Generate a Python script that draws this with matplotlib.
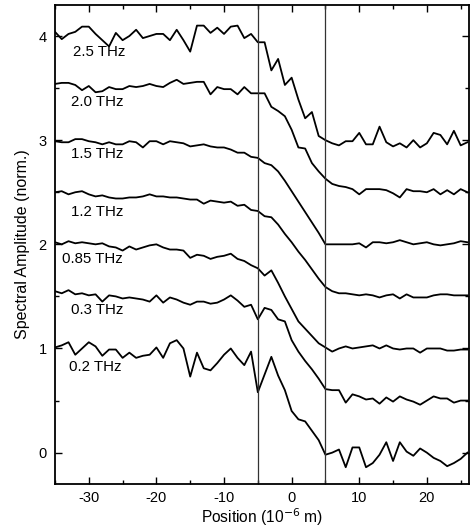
import matplotlib
matplotlib.use('Agg')
import matplotlib.pyplot as plt
from matplotlib.ticker import MultipleLocator

plt.rcParams['font.family'] = ['Liberation Sans', 'DejaVu Sans']
plt.rcParams['axes.unicode_minus'] = False

# positions in 1e-6 m
position = list(range(-35, 27))

amp_25 = [4.04, 3.97, 4.02, 4.04, 4.09, 4.09, 4.02, 3.96, 3.90, 4.03,
          3.96, 4.00, 4.06, 3.98, 4.00, 4.02, 4.02, 3.96, 4.06, 3.96,
          3.85, 4.10, 4.10, 4.03, 4.08, 4.02, 4.09, 4.10, 3.98, 4.02,
          3.94, 3.94, 3.67, 3.78, 3.53, 3.60, 3.39, 3.21, 3.27, 3.04,
          3.00, 2.97, 2.95, 2.99, 2.99, 3.07, 2.96, 2.96, 3.13, 2.98,
          2.94, 2.97, 2.93, 3.00, 2.93, 2.97, 3.07, 3.05, 2.96, 3.09,
          2.95, 2.98]
amp_20 = [3.54, 3.55, 3.55, 3.53, 3.48, 3.52, 3.46, 3.47, 3.51, 3.49,
          3.49, 3.52, 3.51, 3.52, 3.54, 3.52, 3.51, 3.55, 3.58, 3.54,
          3.55, 3.56, 3.56, 3.44, 3.51, 3.49, 3.49, 3.44, 3.51, 3.45,
          3.45, 3.45, 3.32, 3.28, 3.23, 3.10, 2.93, 2.92, 2.78, 2.70,
          2.63, 2.58, 2.56, 2.55, 2.53, 2.48, 2.53, 2.53, 2.53, 2.52,
          2.49, 2.45, 2.53, 2.51, 2.51, 2.50, 2.53, 2.48, 2.52, 2.48,
          2.53, 2.50]
amp_15 = [2.99, 2.98, 2.98, 3.01, 3.01, 2.99, 2.98, 2.96, 2.98, 2.96,
          2.96, 2.99, 2.98, 2.93, 2.99, 2.99, 2.96, 2.99, 2.98, 2.97,
          2.94, 2.95, 2.96, 2.94, 2.93, 2.93, 2.91, 2.88, 2.88, 2.84,
          2.83, 2.78, 2.76, 2.70, 2.61, 2.51, 2.41, 2.31, 2.21, 2.11,
          2.00, 2.00, 2.00, 2.00, 2.00, 2.01, 1.97, 2.02, 2.02, 2.01,
          2.02, 2.04, 2.02, 2.00, 2.01, 2.02, 2.00, 1.99, 2.00, 2.01,
          2.03, 2.02]
amp_12 = [2.50, 2.51, 2.48, 2.50, 2.51, 2.48, 2.46, 2.47, 2.45, 2.44,
          2.44, 2.45, 2.45, 2.46, 2.48, 2.46, 2.46, 2.45, 2.45, 2.44,
          2.43, 2.43, 2.39, 2.42, 2.41, 2.40, 2.41, 2.37, 2.38, 2.33,
          2.32, 2.27, 2.26, 2.19, 2.10, 2.02, 1.93, 1.85, 1.76, 1.67,
          1.59, 1.55, 1.53, 1.53, 1.52, 1.51, 1.52, 1.51, 1.49, 1.51,
          1.52, 1.48, 1.52, 1.49, 1.49, 1.49, 1.51, 1.52, 1.52, 1.51,
          1.51, 1.51]
amp_085 = [2.02, 2.00, 2.03, 2.01, 2.02, 2.01, 2.00, 2.01, 1.98, 1.97,
           1.94, 1.98, 1.95, 1.97, 1.99, 2.00, 1.97, 1.95, 1.95, 1.94,
           1.87, 1.90, 1.89, 1.86, 1.88, 1.89, 1.91, 1.86, 1.84, 1.80,
           1.77, 1.70, 1.75, 1.63, 1.50, 1.38, 1.26, 1.19, 1.12, 1.05,
           1.01, 0.97, 1.00, 1.02, 1.00, 1.01, 1.02, 1.03, 1.00, 1.03,
           1.00, 0.99, 1.00, 1.00, 0.96, 1.00, 1.00, 1.00, 0.98, 0.98,
           0.99, 0.99]
amp_03 = [1.55, 1.53, 1.56, 1.52, 1.53, 1.51, 1.52, 1.45, 1.51, 1.50,
          1.48, 1.49, 1.48, 1.47, 1.45, 1.51, 1.44, 1.49, 1.47, 1.44,
          1.42, 1.45, 1.45, 1.43, 1.44, 1.47, 1.51, 1.46, 1.40, 1.42,
          1.28, 1.39, 1.37, 1.28, 1.26, 1.08, 0.97, 0.88, 0.80, 0.71,
          0.61, 0.60, 0.60, 0.48, 0.56, 0.54, 0.51, 0.52, 0.47, 0.53,
          0.49, 0.54, 0.51, 0.49, 0.46, 0.50, 0.54, 0.52, 0.52, 0.48,
          0.50, 0.50]
amp_02 = [1.01, 1.03, 1.06, 0.94, 1.00, 1.06, 1.02, 0.93, 0.99, 0.99,
          0.91, 0.96, 0.91, 0.93, 0.94, 1.01, 0.91, 1.05, 1.08, 1.00,
          0.73, 0.96, 0.81, 0.79, 0.86, 0.94, 1.00, 0.91, 0.84, 0.97,
          0.58, 0.75, 0.92, 0.74, 0.60, 0.40, 0.32, 0.30, 0.21, 0.12,
          -0.02, 0.00, 0.03, -0.14, 0.05, 0.05, -0.14, -0.10, -0.02, 0.10,
          -0.08, 0.10, 0.01, -0.03, 0.04, 0.00, -0.05, -0.08, -0.13, -0.10,
          -0.06, 0.00]

series = [amp_25, amp_20, amp_15, amp_12, amp_085, amp_03, amp_02]
labels = ['2.5 THz', '2.0 THz', '1.5 THz', '1.2 THz', '0.85 THz', '0.3 THz', '0.2 THz']
label_x = [-32.4, -32.7, -32.7, -32.7, -34.0, -32.7, -33.0]
label_y = [3.85, 3.37, 2.87, 2.31, 1.86, 1.37, 0.82]

fig = plt.figure(figsize=(4.74, 5.30), dpi=100)
ax = fig.add_axes([0.116, 0.087, 0.873, 0.904])

for amp in series:
    ax.plot(position, amp, color='black', linewidth=1.3)

for lab, lx, ly in zip(labels, label_x, label_y):
    ax.text(lx, ly, lab, fontsize=10.8, va='center', ha='left')

# edges of the region
ax.axvline(-5, color='#333333', linewidth=0.9)
ax.axvline(5, color='#333333', linewidth=0.9)

ax.set_xlim(-35, 26.2)
ax.set_ylim(-0.3, 4.3)
ax.xaxis.set_major_locator(MultipleLocator(10))
ax.xaxis.set_minor_locator(MultipleLocator(5))
ax.yaxis.set_major_locator(MultipleLocator(1))
ax.yaxis.set_minor_locator(MultipleLocator(0.5))
ax.tick_params(which='both', direction='in', top=True, right=True, labelsize=10.5)
ax.tick_params(which='major', length=5, width=1)
ax.tick_params(axis='x', which='major', pad=5)
ax.tick_params(axis='y', which='major', pad=6)
ax.tick_params(which='minor', length=3, width=1)
for s in ax.spines.values():
    s.set_linewidth(1.3)

ax.set_xlabel('Position (10$^{-6}$ m)', fontsize=11.2, labelpad=1)
ax.set_ylabel('Spectral Amplitude (norm.)', fontsize=11.5, labelpad=6)

fig.savefig('out.png', dpi=100)
